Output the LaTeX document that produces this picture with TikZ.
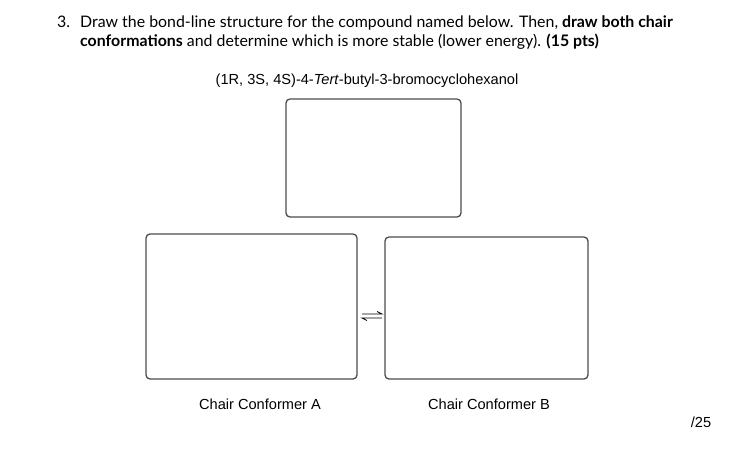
\documentclass[tikz,border=0pt]{standalone}
\usepackage{fontspec}
\setmainfont{Lato}
\newfontfamily\arialf{Liberation Sans}
\begin{document}
\begin{tikzpicture}[x=1pt,y=-1pt,
  ansbox/.style={draw=black!70,line width=1.3pt,rounded corners=4pt},
  lbl/.style={font=\arialf\fontsize{14.6}{17}\selectfont,inner sep=0pt}]
\useasboundingbox (0,0) rectangle (736,458);
\node[anchor=base west,inner sep=0pt,font=\fontsize{15.9}{19}\selectfont] (num) at (57,27) {3.};
\node[anchor=base west,inner sep=0pt,font=\fontsize{15.9}{19}\selectfont] (l1) at (80,27) {Draw the bond-line structure for the compound named below. Then, \textbf{draw both chair}};
\node[anchor=base west,inner sep=0pt,font=\fontsize{15.9}{19}\selectfont] (l2) at (80,46) {\textbf{conformations} and determine which is more stable (lower energy). \textbf{(15 pts)}};
\node[lbl,anchor=base] (name) at (367,84) {(1R, 3S, 4S)-4-\textit{Tert}-butyl-3-bromocyclohexanol};
\foreach \n/\a/\b/\c/\d in {top/286/99/461/217, A/146/234/357/379, B/385/237/588/379}{
  \draw[ansbox] (\a,\b) rectangle (\c,\d);
  \coordinate (\n) at (\a,\b);
}
\coordinate (h1) at (362,314); \coordinate (h2) at (382,314);
\coordinate (h3) at (382,318); \coordinate (h4) at (362,318);
\draw[line width=0.8pt] (h1) -- (h2) -- ++(-5,-2.5);
\draw[line width=0.8pt] (h3) -- (h4) -- ++(5,2.5);
\node[lbl,anchor=base] (la) at (260,409) {Chair Conformer A};
\node[lbl,anchor=base] (lb) at (489,409) {Chair Conformer B};
\node[lbl,anchor=base] (score) at (701,427) {/25};
\end{tikzpicture}
\end{document}
